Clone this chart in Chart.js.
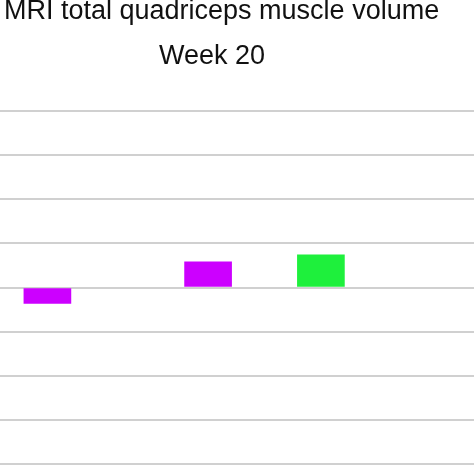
<!DOCTYPE html>
<html>
<head>
<meta charset="utf-8">
<script src="https://cdn.jsdelivr.net/npm/chart.js@4"></script>
<style>
  html, body { margin:0; padding:0; background:#fff; }
  #wrap { width:474px; height:474px; }
</style>
</head>
<body>
<div id="wrap"><canvas id="c" width="474" height="474"></canvas></div>
<script>
'use strict';

// Data (floating bars, change from zero)
const groups = ['A', 'B', 'C'];
const positions = [1.0, 4.39, 6.77];
const lows = [-0.36, 0, 0];
const highs = [0, 0.58, 0.74];
const colors = ['#cc00ff', '#cc00ff', '#1ef03c'];
const titleLines = ['MRI total quadriceps muscle volume', 'Week 20'];

// Title is clipped at the top/right in the original, draw it by hand
const titlePlugin = {
  id: 'titleText',
  afterDraw(chart) {
    const ctx = chart.ctx;
    ctx.save();
    ctx.fillStyle = '#111';
    ctx.font = '27px "Liberation Sans Narrow", "Liberation Sans", Arial, sans-serif';
    ctx.textBaseline = 'middle';
    ctx.textAlign = 'left';
    ctx.fillText(titleLines[0], 4, 12);
    ctx.textAlign = 'center';
    ctx.fillText(titleLines[1], 212, 57);
    ctx.restore();
  }
};

new Chart(document.getElementById('c'), {
  type: 'bar',
  data: {
    datasets: [{
      label: 'volume',
      data: groups.map((g, i) => ({ x: positions[i], y: [lows[i], highs[i]] })),
      backgroundColor: colors,
      borderWidth: 0,
      barThickness: 47
    }]
  },
  options: {
    responsive: false,
    animation: false,
    layout: { padding: { top: 111, bottom: 10, left: 0, right: 0 } },
    plugins: { legend: { display: false }, tooltip: { enabled: false } },
    scales: {
      x: { type: 'linear', min: 0, max: 10, offset: false, display: false },
      y: {
        min: -4, max: 4,
        ticks: { display: false, stepSize: 1 },
        border: { display: false },
        grid: { color: '#d0d0d0', lineWidth: 2, drawTicks: false }
      }
    }
  },
  plugins: [titlePlugin]
});
</script>
</body>
</html>
